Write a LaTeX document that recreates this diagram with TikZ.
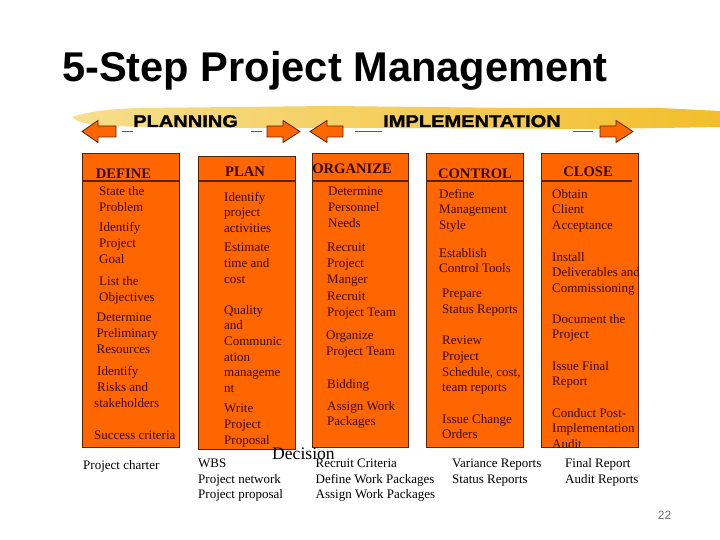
\documentclass[tikz,border=0pt]{standalone}
\usepackage{fontspec}
\setmainfont{Liberation Serif}
\setsansfont{Liberation Sans}
\newfontfamily\bandfont[FakeStretch=1.18,FakeBold=1.5]{Liberation Sans Bold}
\definecolor{stepfill}{HTML}{FF6600}
\definecolor{stepline}{HTML}{5A2200}
\definecolor{steptext}{HTML}{3A0800}
\definecolor{brushgold}{HTML}{F2BE2C}
\definecolor{brushpale}{HTML}{F7DE8C}
\tikzset{
  stepbox/.style={fill=stepfill, draw=stepline, line width=0.9pt},
  steprule/.style={draw=stepline, line width=1.4pt},
  blockarrow/.style={fill=stepfill, draw=stepline, line width=0.8pt},
  bandrule/.style={draw=black!65, line width=0.8pt},
  bandlabel/.style={anchor=base west, inner sep=0pt, font=\bandfont\fontsize{17}{17}\selectfont},
  stephead/.style={anchor=base, inner sep=0pt, text=steptext, font=\fontsize{14.6}{16}\selectfont\bfseries},
  taskitem/.style={anchor=north west, align=left, inner sep=0pt, yshift=9.2pt, text=steptext, font=\fontsize{13}{15.7}\selectfont, execute at begin node=\strut},
  outtext/.style={anchor=north west, align=left, inner sep=0pt, yshift=10pt, font=\fontsize{13}{15.8}\selectfont, execute at begin node=\strut}
}
\begin{document}
\begin{tikzpicture}[x=1pt, y=-1pt]
            \useasboundingbox (0,0) rectangle (720,540);
            % title
            \node[anchor=base west, inner sep=0pt, font=\sffamily\bfseries\fontsize{41.6}{42}\selectfont] (title) at (62,81.7) {5-Step Project Management};
            % brush stroke band
            \shade[left color=brushpale, right color=brushgold] (72,117) .. controls (90,111) and (110,109) .. (140,108) -- (330,106) -- (520,108) -- (660,108) -- (720,111) -- (720,127) -- (600,129) -- (400,128) -- (200,128) -- (100,126) .. controls (85,124) and (76,121) .. (72,117) -- cycle;
            % block arrows
            \filldraw[blockarrow] (82,131.5) -- ++(16,-11) -- ++(0,5.5) -- ++(18,0) -- ++(0,11) -- ++(-18,0) -- ++(0,5.5) -- cycle;
            \filldraw[blockarrow] (300,131.5) -- ++(-17,-11) -- ++(0,5.5) -- ++(-16,0) -- ++(0,11) -- ++(16,0) -- ++(0,5.5) -- cycle;
            \filldraw[blockarrow] (310,131.5) -- ++(17,-11) -- ++(0,5.5) -- ++(16,0) -- ++(0,11) -- ++(-16,0) -- ++(0,5.5) -- cycle;
            \filldraw[blockarrow] (633,131.5) -- ++(-17,-11) -- ++(0,5.5) -- ++(-16,0) -- ++(0,11) -- ++(16,0) -- ++(0,5.5) -- cycle;
            \draw[bandrule] (122,131.5) -- (133,131.5);
            \draw[bandrule] (251,131.5) -- (262,131.5);
            \draw[bandrule] (355,131.5) -- (382,131.5);
            \draw[bandrule] (573,131.5) -- (593,131.5);
            \node[bandlabel] (planning) at (133,127) {PLANNING};
            \node[bandlabel] (implementation) at (383,127) {IMPLEMENTATION};
            % the five step boxes
            \filldraw[stepbox] (82,153) rectangle (179,447);
            \filldraw[stepbox] (198,156) rectangle (295,449);
            \filldraw[stepbox] (312,153) rectangle (408,447);
            \filldraw[stepbox] (426,153) rectangle (523,447);
            \filldraw[stepbox] (541,153) rectangle (638,447);
            \draw[steprule] (82,181) -- (179,181);
            \draw[steprule] (198,181) -- (295,181);
            \draw[steprule] (312,181) -- (408,181);
            \draw[steprule] (426,181) -- (523,181);
            \draw[steprule] (541,181) -- (632,181);
            \node[stephead] (define) at (123.5,179) {DEFINE};
            \node[stephead] (plan) at (245,176.8) {PLAN};
            \node[stephead] (organize) at (352,174) {ORGANIZE};
            \node[stephead] (control) at (475,179) {CONTROL};
            \node[stephead] (close) at (588,177) {CLOSE};
            % define
            \node[taskitem] (def1) at (99,195.7) {State the\\Problem};
            \node[taskitem] (def2) at (99,231.7) {Identify\\Project\\Goal};
            \node[taskitem] (def3) at (99,285.7) {List the\\Objectives};
            \node[taskitem] (def4) at (96.5,322) {Determine\\Preliminary\\Resources};
            \node[taskitem] (def5) at (94,375.7) {\hspace{3pt}Identify\\\hspace{3pt}Risks and\\stakeholders};
            \node[taskitem] (def6) at (94,437.7) {Success criteria};
            % plan
            \node[taskitem] (plan1) at (224,201) {Identify\\project\\activities};
            \node[taskitem] (plan2) at (224,252) {Estimate\\time and\\cost};
            \node[taskitem] (plan3) at (224,314) {Quality\\and\\Communic\\ation\\manageme\\nt};
            \node[taskitem] (plan4) at (224,413) {Write\\Project\\Proposal};
            % organize
            \node[taskitem] (org1) at (328,196) {Determine\\Personnel\\Needs};
            \node[taskitem] (org2) at (327,252) {Recruit\\Project\\Manger};
            \node[taskitem] (org3) at (327,301) {Recruit\\Project Team};
            \node[taskitem] (org4) at (326,340) {Organize\\Project Team};
            \node[taskitem] (org5) at (327,387) {Bidding};
            \node[taskitem] (org6) at (327,410) {Assign Work\\Packages};
            % control
            \node[taskitem] (ctl1) at (439,198) {Define\\Management\\Style};
            \node[taskitem] (ctl2) at (439,257) {Establish\\Control Tools};
            \node[taskitem] (ctl3) at (442,298) {Prepare\\Status Reports};
            \node[taskitem] (ctl4) at (442,345) {Review\\Project\\Schedule, cost,\\team reports};
            \node[taskitem] (ctl5) at (442,423) {Issue Change\\Orders};
            % close
            \node[taskitem] (cls1) at (552,198) {Obtain\\Client\\Acceptance};
            \node[taskitem] (cls2) at (552,261) {Install\\Deliverables and\\Commissioning};
            \node[taskitem] (cls3) at (552,323) {Document the\\Project};
            \node[taskitem] (cls4) at (552,370) {Issue Final\\Report};
            \node[taskitem] (cls5) at (552,417) {Conduct Post-\\Implementation\\Audit};
            % outputs
            \node[anchor=base west, inner sep=0pt, font=\fontsize{17.6}{18}\selectfont] (decision) at (272,459.5) {Decision};
            \node[outtext] (out1) at (83,468.5) {Project charter};
            \node[outtext] (out2) at (198,468.5) {WBS\\Project network\\Project proposal};
            \node[outtext] (out3) at (315.5,468.5) {Recruit Criteria\\Define Work Packages\\Assign Work Packages};
            \node[outtext] (out4) at (452,468.5) {Variance Reports\\Status Reports};
            \node[outtext] (out5) at (565,468.5) {Final Report\\Audit Reports};
            \node[font=\sffamily\fontsize{12}{12}\selectfont, text=black!55] (pageno) at (664.5,515) {22};
        \end{tikzpicture}
\end{document}
